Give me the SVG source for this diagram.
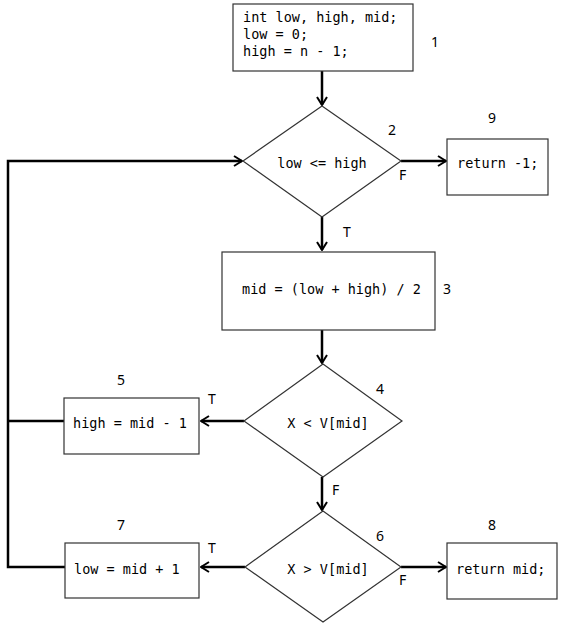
<svg xmlns="http://www.w3.org/2000/svg" width="569" height="636" viewBox="0 0 569 636">
<style>
.node{fill:#fff;stroke:#333;stroke-width:1.2}
.code{font-family:"DejaVu Sans Mono","Liberation Mono",monospace;font-size:13.5px;fill:#000}
.lbl{font-family:"Noto Sans","Liberation Sans",sans-serif;font-size:14px;fill:#000}
.edge{fill:none;stroke:#000;stroke-width:2.5}
</style>
<defs>
<marker id="arr" viewBox="0 0 10 12" refX="9" refY="6" markerWidth="10" markerHeight="12" markerUnits="userSpaceOnUse" orient="auto">
<path d="M1,1 L9,6 L1,11" fill="none" stroke="#000" stroke-width="2"/>
</marker>
</defs>
<rect width="569" height="636" fill="#fff"/>
<g id="connectors">
<path class="edge" d="M322,71 V105" marker-end="url(#arr)"/>
<path class="edge" d="M401,161 H446" marker-end="url(#arr)"/>
<path class="edge" d="M322,217 V250" marker-end="url(#arr)"/>
<path class="edge" d="M322,330 V363" marker-end="url(#arr)"/>
<path class="edge" d="M244,421 H201" marker-end="url(#arr)"/>
<path class="edge" d="M322,477 V510" marker-end="url(#arr)"/>
<path class="edge" d="M245,567 H201" marker-end="url(#arr)"/>
<path class="edge" d="M401,567 H446" marker-end="url(#arr)"/>
<path class="edge" d="M64,421 H8"/>
<path class="edge" d="M65,567 H8 V161 H242" marker-end="url(#arr)"/>
<text class="lbl" x="343" y="237">T</text>
<text class="lbl" x="399" y="180">F</text>
<text class="lbl" x="208" y="404">T</text>
<text class="lbl" x="332" y="495">F</text>
<text class="lbl" x="208" y="553">T</text>
<text class="lbl" x="399" y="585">F</text>
</g>
<g id="n1">
<rect class="node" x="233" y="4" width="180" height="67"/>
<text class="code" x="243" y="22">int low, high, mid;</text>
<text class="code" x="243" y="39">low = 0;</text>
<text class="code" x="243" y="56">high = n - 1;</text>
<text class="lbl" x="431" y="47">1</text>
</g>
<g id="n2">
<polygon class="node" points="322,106 401,161 322,217 243,161"/>
<text class="code" x="322" y="168" text-anchor="middle">low &lt;= high</text>
<text class="lbl" x="388" y="135">2</text>
</g>
<g id="n9">
<rect class="node" x="447" y="139" width="101" height="56"/>
<text class="code" x="457" y="168">return -1;</text>
<text class="lbl" x="488" y="123">9</text>
</g>
<g id="n3">
<rect class="node" x="222" y="252" width="213" height="78"/>
<text class="code" x="242" y="294">mid = (low + high) / 2</text>
<text class="lbl" x="443" y="294">3</text>
</g>
<g id="n4">
<polygon class="node" points="323,364 402,421 323,477 244,421"/>
<text class="code" x="328" y="428" text-anchor="middle">X &lt; V[mid]</text>
<text class="lbl" x="376" y="394">4</text>
</g>
<g id="n5">
<rect class="node" x="64" y="398" width="135" height="56"/>
<text class="code" x="73" y="428">high = mid - 1</text>
<text class="lbl" x="117" y="385">5</text>
</g>
<g id="n6">
<polygon class="node" points="323,511 401,567 323,622 245,567"/>
<text class="code" x="328" y="574" text-anchor="middle">X &gt; V[mid]</text>
<text class="lbl" x="376" y="541">6</text>
</g>
<g id="n7">
<rect class="node" x="65" y="543" width="134" height="55"/>
<text class="code" x="74" y="574">low = mid + 1</text>
<text class="lbl" x="117" y="530">7</text>
</g>
<g id="n8">
<rect class="node" x="447" y="543" width="110" height="56"/>
<text class="code" x="456" y="574">return mid;</text>
<text class="lbl" x="488" y="530">8</text>
</g>
</svg>
